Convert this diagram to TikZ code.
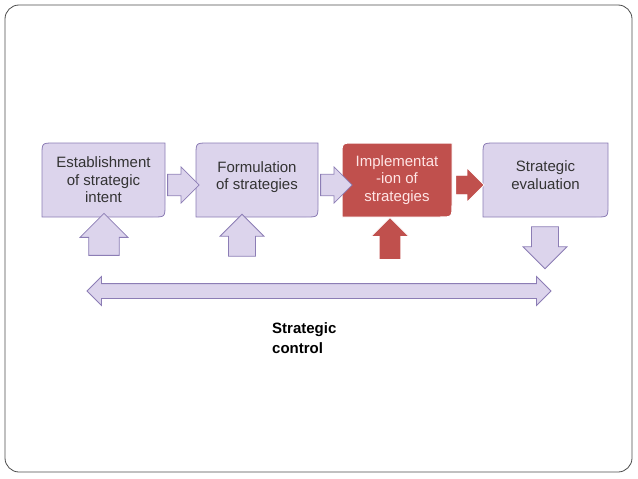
\documentclass[tikz,border=0pt]{standalone}
\usepackage{fontspec}
\setmainfont{Liberation Sans}
\usetikzlibrary{shapes.arrows}
\definecolor{lav}{HTML}{DCD4EC}
\definecolor{lavb}{HTML}{8C7DB5}
\definecolor{redf}{HTML}{C0504D}
\begin{document}
\begin{tikzpicture}[x=1pt,y=-1pt,
  box/.style={fill=lav,draw=lavb,line width=0.8pt},
  rbox/.style={fill=redf,draw=white,line width=1pt},
  lbl/.style={align=center,font=\fontsize{15}{17.5}\selectfont,text=black!80},
  arr/.style={single arrow,draw=lavb,fill=lav,line width=0.8pt,single arrow tip angle=90},
  rarr/.style={single arrow,draw=white,fill=redf,line width=0.8pt,single arrow tip angle=90}]
\useasboundingbox (0,0) rectangle (638,479);
\draw[black!70,line width=0.8pt,rounded corners=14] (5,5) rectangle (632,472);
% boxes: rounded top-left and bottom-right corners
\newcommand{\mybox}[5]{\path[#5] (#1,#4) -- (#1,#2+12) .. controls (#1,#2) .. (#1+12,#2) -- (#3,#2) -- (#3,#4-12) .. controls (#3,#4) .. (#3-12,#4) -- cycle;}
\mybox{42}{143}{165}{217}{box}
\mybox{196}{143}{318}{217}{box}
\mybox{342}{143}{452}{217}{rbox}
\mybox{483}{143}{608}{217}{box}
\node[lbl] (t1) at (103.5,180) {Establishment\\of strategic\\intent};
\node[lbl] (t2) at (257,177) {Formulation\\of strategies};
\node[lbl,text=white!90!red] (t3) at (397,180) {Implementat\\-ion of\\strategies};
\node[lbl] (t4) at (545.5,175) {Strategic\\evaluation};
% right arrows
\node[arr,minimum height=27,minimum width=36,inner sep=10] (a1) at (178,185) {};
\node[arr,minimum height=27,minimum width=36,inner sep=10] (a2) at (331,185) {};
\node[rarr,minimum height=28,minimum width=34,inner sep=9] (a3) at (465,185) {};
% vertical arrows
\node[arr,rotate=90,minimum height=42,minimum width=48,inner sep=12] (u1) at (104,242) {};
\node[arr,rotate=90,minimum height=42,minimum width=44,inner sep=11] (u2) at (242,242) {};
\node[rarr,rotate=90,minimum height=42,minimum width=38,inner sep=9] (u3) at (390,244) {};
\node[arr,rotate=-90,minimum height=42,minimum width=44,inner sep=11] (d4) at (545,241) {};
% double arrow
\node[double arrow,draw=lavb,fill=lav,line width=0.8pt,double arrow tip angle=90,minimum height=464,minimum width=28,inner sep=7] (h) at (319,291) {};
\node[align=left,font=\bfseries\fontsize{15}{20}\selectfont,anchor=north west,inner sep=0] (sc) at (272,322) {Strategic\\control};
\end{tikzpicture}
\end{document}
